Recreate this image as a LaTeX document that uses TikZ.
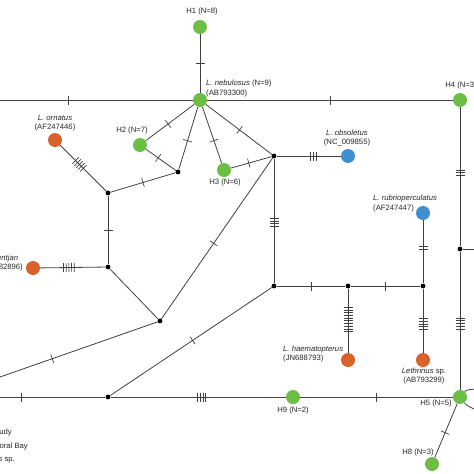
\documentclass[tikz,border=0pt]{standalone}
\usepackage{fontspec}
\setmainfont{Liberation Sans}
\usetikzlibrary{decorations.markings}
\definecolor{hgreen}{HTML}{6DBE45}
\definecolor{horange}{HTML}{D9622B}
\definecolor{hblue}{HTML}{3F8FD2}
\definecolor{lgray}{HTML}{404040}
\tikzset{
  conn/.style={draw=lgray, line width=0.8pt},
  bar/.style={draw=lgray, line width=0.7pt},
  bars/.style 2 args={postaction={decorate,decoration={markings,
    mark=at position #1 with {\foreach \k in {1,...,#2}{
      \draw[bar] ({(\k-(#2+1)/2)*2.7pt},-4.5pt) -- ({(\k-(#2+1)/2)*2.7pt},4.5pt);}}}}},
  hap/.style={circle, fill=#1, minimum size=14pt, inner sep=0pt},
  dot/.style={circle, fill=black, minimum size=4.8pt, inner sep=0pt},
  lab/.style={font=\fontsize{7.7}{9.3}\selectfont, inner sep=0pt, align=center, text=black!85},
}
\begin{document}
\begin{tikzpicture}[x=1pt,y=-1pt]
\useasboundingbox (0,0) rectangle (474,474);
% haplotype / species nodes
\node[hap=hgreen] (H1) at (200,27) {};
\node[hap=hgreen] (Lneb) at (200,100) {};
\node[hap=hgreen] (H4) at (460,100) {};
\node[hap=hgreen] (H2) at (140,145) {};
\node[hap=hgreen] (H3) at (224,170) {};
\node[hap=horange] (orn) at (55,140) {};
\node[hap=hblue] (obs) at (348,156) {};
\node[hap=horange] (len) at (33,268) {};
\node[hap=hgreen] (H9) at (293,397) {};
\node[hap=hgreen] (H5) at (460,397) {};
\node[hap=hgreen] (H8) at (432,464) {};
\node[hap=horange] (haem) at (348,360) {};
\node[hap=horange] (leth) at (423,360) {};
\node[hap=hblue] (rub) at (423,213) {};
% median vectors
\node[dot] (J1) at (178,172) {};
\node[dot] (J2) at (108,193) {};
\node[dot] (J3) at (274,156) {};
\node[dot] (J4) at (108,267) {};
\node[dot] (J5) at (160,321) {};
\node[dot] (J6) at (108,397) {};
\node[dot] (J7) at (274,286) {};
\node[dot] (J8) at (348,286) {};
\node[dot] (J9) at (423,286) {};
\node[dot] (J10) at (460,249) {};
% free ends
\coordinate (eTL) at (-2,100);
\coordinate (eR) at (476,249);
\coordinate (eL5) at (-2,377.7);
\coordinate (eL6) at (-2,397);
\coordinate (eH5a) at (476,389);
\coordinate (eH5b) at (476,410);
% connectors
\draw[conn, bars={0.5}{1}] (H1) -- (Lneb);
\draw[conn, bars={0.36}{1}] (eTL) -- (Lneb);
\draw[conn, bars={0.5}{1}] (Lneb) -- (H4);
\draw[conn, bars={0.47}{3}] (H4) -- (J10);
\draw[conn, bars={0.52}{5}] (J10) -- (H5);
\draw[conn] (J10) -- (eR);
\draw[conn, bars={0.44}{2}] (rub) -- (J9);
\draw[conn, bars={0.55}{5}] (J9) -- (leth);
\draw[conn, bars={0.5}{1}] (J8) -- (J9);
\draw[conn, bars={0.51}{1}] (J7) -- (J8);
\draw[conn, bars={0.48}{10}] (J8) -- (haem);
\draw[conn, bars={0.49}{4}] (J7) -- (J3);
\draw[conn, bars={0.57}{3}] (J3) -- (obs);
\draw[conn, bars={0.51}{1}] (Lneb) -- (J3);
\draw[conn, bars={0.44}{1}] (H3) -- (J3);
\draw[conn, bars={0.47}{1}] (J5) -- (J3);
\draw[conn, bars={0.51}{1}] (J6) -- (J7);
\draw[conn, bars={0.34}{1}] (eL5) -- (J5);
\draw[conn] (J5) -- (J4);
\draw[conn, bars={0.44}{5}] (len) -- (J4);
\draw[conn, bars={0.5}{1}] (J2) -- (J4);
\draw[conn, bars={0.42}{5}] (orn) -- (J2);
\draw[conn, bars={0.5}{1}] (J2) -- (J1);
\draw[conn, bars={0.41}{1}] (H2) -- (J1);
\draw[conn, bars={0.46}{1}] (J1) -- (Lneb);
\draw[conn, bars={0.54}{1}] (Lneb) -- (H2);
\draw[conn, bars={0.6}{1}] (Lneb) -- (H3);
\draw[conn, bars={0.22}{1}] (eL6) -- (J6);
\draw[conn, bars={0.52}{4}] (J6) -- (H9);
\draw[conn, bars={0.5}{1}] (H9) -- (H5);
\draw[conn, bars={0.54}{1}] (H5) -- (H8);
\draw[conn] (H5) .. controls (466,390) .. (eH5a);
\draw[conn] (H5) .. controls (466,405) .. (eH5b);
% labels
\node[lab] (lH1) at (202,12) {H1 (N=8)};
\node[lab, anchor=west, align=left] (lneb) at (206,88.5) {\textit{L. nebulosus} (N=9)\\(AB793300)};
\node[lab] (lH4) at (461,86) {H4 (N=3)};
\node[lab] (lH2) at (132,131) {H2 (N=7)};
\node[lab] (lH3) at (225,183) {H3 (N=6)};
\node[lab] (lorn) at (55,123) {\textit{L. ornatus}\\(AF247446)};
\node[lab] (lobs) at (347,138) {\textit{L. obsoletus}\\(NC\_009855)};
\node[lab, anchor=east, align=center] (llen) at (23,263) {\textit{L. lentjan}\\(KF682896)};
\node[lab, anchor=west, align=left] (lhaem) at (283,354) {\textit{L. haematopterus}\\(JN688793)};
\node[lab] (lleth) at (424,376) {\textit{Lethrinus} sp.\\(AB793299)};
\node[lab, anchor=west, align=left] (lrub) at (373,203.5) {\textit{L. rubrioperculatus}\\(AF247447)};
\node[lab] (lH5) at (436,404) {H5 (N=5)};
\node[lab] (lH8) at (418,453) {H8 (N=3)};
\node[lab] (lH9) at (293,411) {H9 (N=2)};
\node[lab, anchor=east] (leg1) at (12,433) {This study};
\node[lab, anchor=east] (leg2) at (28,447) {Coral Bay};
\node[lab, anchor=east] (leg3) at (15,460) {\textit{Lethrinus} sp.};
\end{tikzpicture}
\end{document}
